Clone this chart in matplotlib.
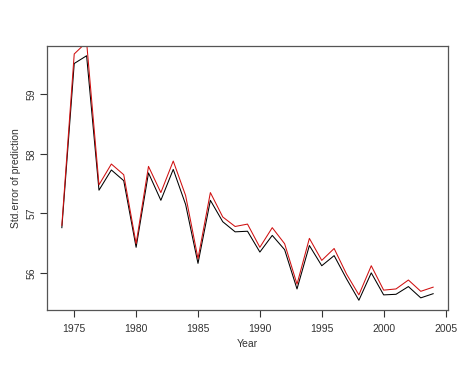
import matplotlib
matplotlib.use("Agg")
import matplotlib.pyplot as plt

years = list(range(1974, 2005))
black = [56.76, 59.52, 59.65, 57.39, 57.73, 57.55, 56.43, 57.68, 57.22, 57.74,
         57.15, 56.16, 57.22, 56.86, 56.69, 56.70, 56.35, 56.63, 56.39, 55.73,
         56.46, 56.12, 56.29, 55.90, 55.54, 56.00, 55.63, 55.64, 55.77, 55.58, 55.65]
red = [56.80, 59.68, 59.88, 57.48, 57.83, 57.65, 56.49, 57.79, 57.35, 57.88,
       57.30, 56.24, 57.35, 56.94, 56.78, 56.82, 56.43, 56.76, 56.49, 55.81,
       56.58, 56.21, 56.41, 55.98, 55.63, 56.12, 55.71, 55.73, 55.88, 55.69, 55.76]
xticks = [1975, 1980, 1985, 1990, 1995, 2000, 2005]
yticks = [56, 57, 58, 59]

plt.rcParams['font.family'] = ['Liberation Sans', 'DejaVu Sans']
fig = plt.figure(figsize=(4.74, 3.65), dpi=100)
ax = fig.add_axes([47/474, 1-310/365, (448-47)/474, (310-46)/365])
ax.plot(years, black, color='black', lw=0.75)
ax.plot(years, red, color='#d01010', lw=0.75)
ax.set_xlim(1972.8, 2005.2)
ax.set_ylim(55.376, 59.814)
ax.set_xticks(xticks)
ax.set_yticks(yticks)
ax.tick_params(direction='out', length=5, width=0.8, colors='#333333', labelsize=7.5)
ax.tick_params(axis='x', pad=5)
ax.tick_params(axis='y', pad=2.5)
for lbl in ax.get_yticklabels():
    lbl.set_rotation(90)
    lbl.set_va('center')
for s in ax.spines.values():
    s.set_color('#555555')
    s.set_linewidth(0.9)
ax.set_xlabel('Year', fontsize=7.5, color='#333333', labelpad=4)
ax.set_ylabel('Std.error of prediction', fontsize=7.5, color='#333333', labelpad=4)
fig.savefig('out.png', dpi=100)
